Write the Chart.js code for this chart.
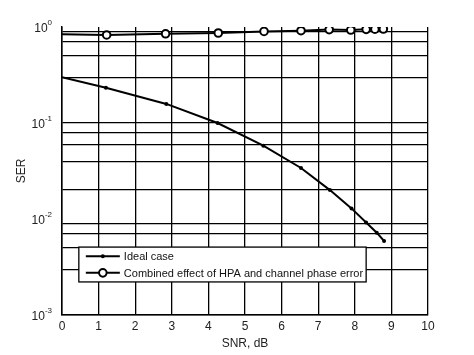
<!DOCTYPE html>
<html><head><meta charset="utf-8">
<script src="https://cdn.jsdelivr.net/npm/chart.js@4/dist/chart.umd.min.js"></script>
<style>html,body{margin:0;padding:0;background:#fff;}#c{display:block;}</style>
</head><body>
<canvas id="c" width="474" height="355"></canvas>
<script>
const idealSNR = [0, 1.2, 2.85, 4.25, 5.5, 6.53, 7.32, 7.91, 8.31, 8.6, 8.8];
const idealSER = [0.30, 0.233, 0.158, 0.100, 0.058, 0.034, 0.020, 0.0129, 0.0092, 0.0072, 0.0059];
const combSNR = [0, 1.22, 2.83, 4.27, 5.52, 6.53, 7.3, 7.89, 8.31, 8.55, 8.78];
const combSER = [0.84, 0.826, 0.85, 0.866, 0.90, 0.915, 0.94, 0.93, 0.945, 0.95, 0.953];
const seriesLabels = ['Ideal case', 'Combined effect of HPA and channel phase error'];
const xTicks = [0,1,2,3,4,5,6,7,8,9,10];
const yDecades = [-3,-2,-1,0];

const FONT = '"Liberation Sans", Arial, sans-serif';

function yTickValues(){
  const v=[];
  for (let d=-3; d<0; d++) for (let m=1;m<10;m++) v.push(m*Math.pow(10,d));
  v.push(1);
  return v;
}

const legendPlugin = {
  id:'boxLegend',
  afterDatasetsDraw(chart){
    const ctx=chart.ctx, xs=chart.scales.x, ys=chart.scales.y;
    const left = xs.getPixelForValue(0.46), right = xs.getPixelForValue(8.31);
    const top = ys.getPixelForValue(0.0051), bottom = ys.getPixelForValue(0.00221);
    ctx.save();
    ctx.fillStyle='#fff'; ctx.fillRect(left,top,right-left,bottom-top);
    ctx.strokeStyle='#000'; ctx.lineWidth=1.3; ctx.strokeRect(left,top,right-left,bottom-top);
    const rows=[top+(bottom-top)*0.26, top+(bottom-top)*0.74];
    chart.data.datasets.forEach((ds,i)=>{
      const y=rows[i];
      ctx.strokeStyle='#000'; ctx.lineWidth=2;
      ctx.beginPath(); ctx.moveTo(left+7,y); ctx.lineTo(left+41,y); ctx.stroke();
      ctx.beginPath();
      if(i===0){ ctx.fillStyle='#000'; ctx.arc(left+24,y,2,0,Math.PI*2); ctx.fill(); }
      else { ctx.fillStyle='#fff'; ctx.arc(left+24,y,3.8,0,Math.PI*2); ctx.fill(); ctx.lineWidth=2; ctx.stroke(); }
      ctx.fillStyle='#111'; ctx.font='11px '+FONT; ctx.textBaseline='middle'; ctx.textAlign='left';
      ctx.fillText(ds.label, left+45, y+1);
    });
    ctx.restore();
  }
};

const yLabelPlugin = {
  id:'yLabels',
  afterDraw(chart){
    const ctx=chart.ctx, ys=chart.scales.y;
    ctx.save(); ctx.fillStyle='#222';
    yDecades.forEach(d=>{
      const y=ys.getPixelForValue(Math.pow(10,d));
      const exp=String(d);
      ctx.font='8px '+FONT; const ew=ctx.measureText(exp).width;
      ctx.font='12px '+FONT; ctx.textAlign='right'; ctx.textBaseline='middle';
      ctx.fillText('10', 52-ew, y+2);
      ctx.font='8px '+FONT; ctx.textAlign='left';
      ctx.fillText(exp, 52-ew, y-4);
    });
    ctx.restore();
  }
};

new Chart(document.getElementById('c'), {
  type:'line',
  data:{
    datasets:[
      {label:seriesLabels[0], data: idealSNR.map((x,i)=>({x, y:idealSER[i]})),
       borderColor:'#000', backgroundColor:'#000', borderWidth:2,
       pointRadius: idealSNR.map((x,i)=>i===0?0:2), pointBackgroundColor:'#000', pointBorderWidth:0},
      {label:seriesLabels[1], data: combSNR.map((x,i)=>({x, y:combSER[i]})),
       borderColor:'#000', backgroundColor:'#fff', borderWidth:2,
       pointRadius: combSNR.map((x,i)=>i===0?0:3.8), pointBackgroundColor:'#fff', pointBorderColor:'#000', pointBorderWidth:2}
    ]
  },
  options:{
    responsive:false, animation:false, devicePixelRatio:1,
    layout:{padding:{top:27, right:46, left:10, bottom:0}},
    plugins:{legend:{display:false}, tooltip:{enabled:false}},
    scales:{
      x:{type:'linear', min:0, max:10,
        afterBuildTicks(s){ s.ticks = xTicks.map(v=>({value:v})); },
        afterFit(s){ s.height=40; },
        grid:{color:'#000', lineWidth:1.3, drawTicks:false},
        border:{color:'#000', width:1.5},
        ticks:{color:'#222', font:{family:FONT, size:12}, padding:4, maxRotation:0},
        title:{display:true, text:'SNR, dB', color:'#222', font:{family:FONT, size:12}, padding:{top:2}}
      },
      y:{type:'logarithmic', min:0.001, max:1,
        afterBuildTicks(s){ s.ticks = yTickValues().map(v=>({value:v})); },
        afterFit(s){ s.width=52; },
        grid:{color:'#000', lineWidth:1.3, drawTicks:false},
        border:{color:'#000', width:1.5},
        ticks:{callback:()=> '', padding:0},
        title:{display:true, text:'SER', color:'#222', font:{family:FONT, size:12}, padding:{bottom:6}}
      }
    }
  },
  plugins:[legendPlugin, yLabelPlugin]
});
</script>
</body></html>
